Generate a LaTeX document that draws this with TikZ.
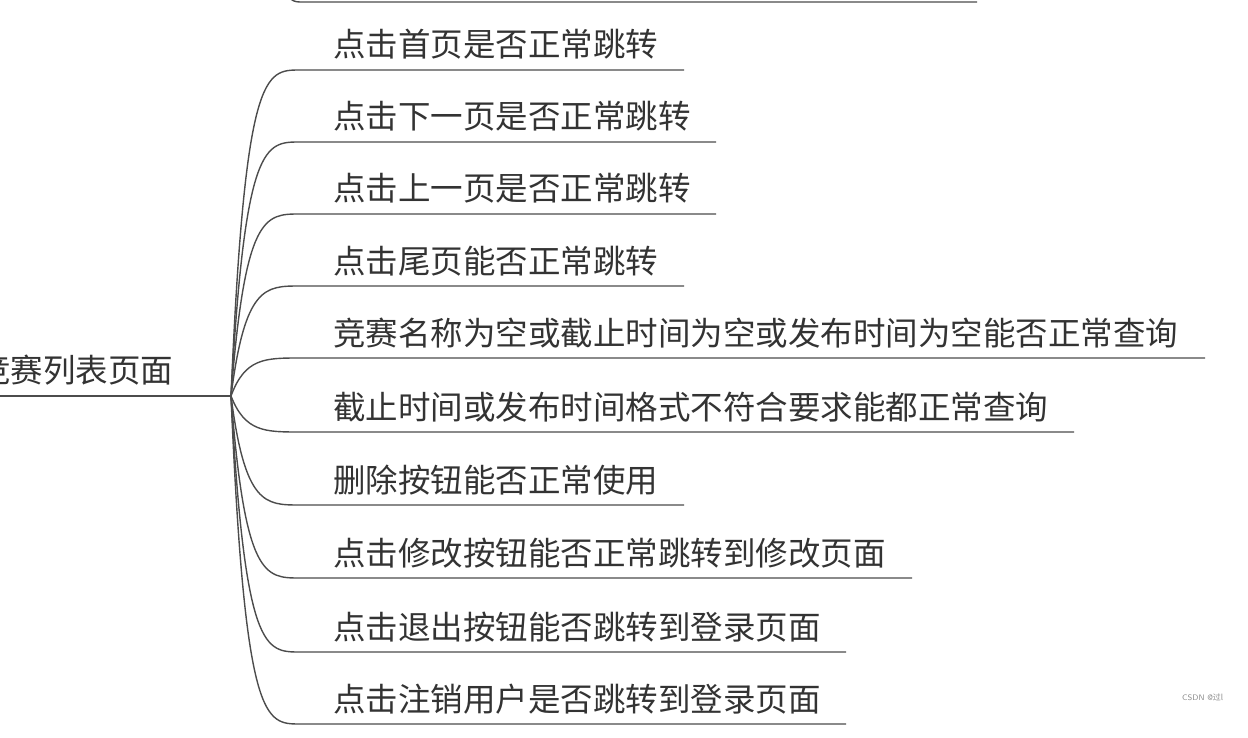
\documentclass[tikz,border=0pt]{standalone}
\usepackage{fontspec}
\newfontfamily\cjk{Noto Sans CJK SC}
\begin{document}
\begin{tikzpicture}[x=1pt,y=-1pt,
  lbl/.style={font=\cjk\fontsize{32.5}{36}\selectfont,text=black!80,anchor=base west,inner sep=0pt},
  br/.style={draw=black!70,line width=1.4pt}]
\useasboundingbox (0,0) rectangle (1248,738);
\begin{scope}
\clip (0,0) rectangle (1248,738);
\coordinate (hub) at (231,396);
\node[lbl] (root) at (-22,382) {竞赛列表页面};
\draw[br] (-5,396) -- (hub);
\coordinate (t0) at (300,2);
\coordinate (tc) at (283,-20);
\draw[br] (tc) .. controls (286,-4) and (290,2) .. (t0) -- (977,2);
\foreach \y/\e/\t [count=\i] in {
 70/684/点击首页是否正常跳转,
 142/716/点击下一页是否正常跳转,
 214/716/点击上一页是否正常跳转,
 286/684/点击尾页能否正常跳转,
 358/1205/竞赛名称为空或截止时间为空或发布时间为空能否正常查询,
 432/1074/截止时间或发布时间格式不符合要求能都正常查询,
 505/684/删除按钮能否正常使用,
 578/912/点击修改按钮能否正常跳转到修改页面,
 652/846/点击退出按钮能否跳转到登录页面,
 724/846/点击注销用户是否跳转到登录页面}{
  \node[lbl] (n\i) at (333,\y-13) {\t};
  \coordinate (s\i) at (300,\y);
  \coordinate (e\i) at (\e,\y);
  \draw[br] (hub) .. controls (245,\y) and (265,\y) .. (s\i) -- (e\i);
}
\node[font=\sffamily\fontsize{8}{9}\selectfont,text=black!45,anchor=west,inner sep=0pt] (wm) at (1182,697) {CSDN @\cjk 过l};
\end{scope}
\end{tikzpicture}
\end{document}
